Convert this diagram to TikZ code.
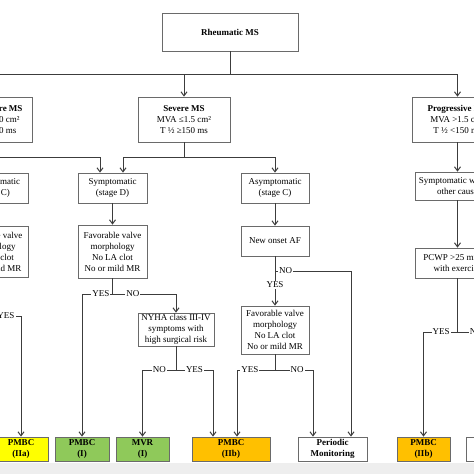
\documentclass[tikz,border=0pt]{standalone}
\usepackage{fontspec}
\setmainfont{Liberation Serif}
\usetikzlibrary{arrows.meta}
\definecolor{lineg}{HTML}{3C3C3C}
\definecolor{boxg}{HTML}{6A6A6A}
\definecolor{clsIIa}{HTML}{FFFF00}
\definecolor{clsI}{HTML}{8FC95A}
\definecolor{clsIIb}{HTML}{FFC000}
\definecolor{band}{HTML}{EEEEEE}

\begin{document}
\begin{tikzpicture}[x=1pt,y=-1pt]
          \tikzstyle{box}=[draw=boxg, line width=0.8pt, fill=white, align=center, inner sep=0pt, font=\fontsize{9}{11}\selectfont]
          \tikzstyle{endbox}=[box, minimum height=24, font=\fontsize{9}{11}\selectfont\bfseries]
          \tikzstyle{wire}=[draw=lineg, line width=1pt]
          \tikzstyle{arr}=[wire, -{Straight Barb[length=4pt,width=6pt]}]
          \tikzstyle{lbl}=[fill=white, inner sep=1pt, font=\fontsize{9}{10}\selectfont]
          \useasboundingbox (0,0) rectangle (474,474);
          \fill[band] (0,463) rectangle (474,474);
          \clip (0,0) rectangle (474,474);
          \node[box, minimum width=136, minimum height=38] (rheum) at (230,32) {\textbf{Rheumatic MS}};
          \node[box, minimum width=79, minimum height=45] (vsevere) at (-7.5,119.5) {\textbf{Very severe MS}\\MVA ≤1.0 cm²\\T ½ ≥220 ms};
          \node[box, minimum width=92, minimum height=45] (severe) at (184,119.5) {\textbf{Severe MS}\\MVA ≤1.5 cm²\\T ½ ≥150 ms};
          \node[box, minimum width=91, minimum height=45] (progr) at (457.5,119.5) {\textbf{Progressive MS}\\MVA >1.5 cm²\\T ½ <150 ms};
          \node[box, minimum width=69, minimum height=30] (asymL) at (-6.5,188) {Asymptomatic\\(stage C)};
          \node[box, minimum width=69, minimum height=30] (sympD) at (112.5,188) {Symptomatic\\(stage D)};
          \node[box, minimum width=68, minimum height=30] (asymC) at (275,188) {Asymptomatic\\(stage C)};
          \node[box, minimum width=85, minimum height=28] (sympR) at (457.5,186) {Symptomatic with no\\other cause};
          \node[box, minimum width=69, minimum height=51] (favL) at (-6.5,251.5) {Favorable valve\\morphology\\No LA clot\\No or mild MR};
          \node[box, minimum width=69, minimum height=53] (favD) at (112.5,251.5) {Favorable valve\\morphology\\No LA clot\\No or mild MR};
          \node[box, minimum width=68, minimum height=30] (onsetAF) at (275,241) {New onset AF};
          \node[box, minimum width=85, minimum height=30] (pcwp) at (457.5,263) {PCWP >25 mmHg\\with exercise};
          \node[box, minimum width=76, minimum height=33] (nyha) at (176,329.5) {NYHA class III-IV\\symptoms with\\high surgical risk};
          \node[box, minimum width=68, minimum height=48] (favC) at (275,330) {Favorable valve\\morphology\\No LA clot\\No or mild MR};
          \node[endbox, fill=clsIIa, minimum width=54] (pmbcIIa) at (21,449) {PMBC\\(IIa)};
          \node[endbox, fill=clsI, minimum width=54] (pmbcI) at (82,449) {PMBC\\(I)};
          \node[endbox, fill=clsI, minimum width=53] (mvr) at (142.5,449) {MVR\\(I)};
          \node[endbox, fill=clsIIb, minimum width=78] (pmbcIIbA) at (231,449) {PMBC\\(IIb)};
          \node[endbox, minimum width=69] (monitor) at (332.5,449) {Periodic\\Monitoring};
          \node[endbox, fill=clsIIb, minimum width=53] (pmbcIIbB) at (423.5,449) {PMBC\\(IIb)};
          \node[endbox, minimum width=69] (monitorR) at (500.5,449) {Periodic\\Monitoring};
          \coordinate (j0) at (230,74);
          \coordinate (j1) at (184,157);
          \coordinate (j2) at (-7.5,157);
          \coordinate (jD) at (112.5,294);
          \coordinate (jN) at (176,370);
          \coordinate (jA) at (275,271);
          \coordinate (jC) at (275,370);
          \coordinate (jP) at (457.5,332);
          \coordinate (jL) at (-9,316);
          \draw[wire] (rheum) -- (j0);
          \draw[arr] (j0) -| (vsevere);
          \draw[arr] (j0) -| (severe);
          \draw[arr] (j0) -| (progr);
          \draw[wire] (vsevere) -- (j2);
          \draw[arr] (j2) -| (asymL);
          \draw[arr] (j2) -| ([xshift=-12.5]sympD.north);
          \draw[wire] (severe) -- (j1);
          \draw[arr] (j1) -| ([xshift=10.5]sympD.north);
          \draw[arr] (j1) -| (asymC);
          \draw[arr] (progr) -- (sympR);
          \draw[arr] (asymL) -- (favL);
          \draw[arr] (sympD) -- (favD);
          \draw[arr] (asymC) -- (onsetAF);
          \draw[arr] (sympR) -- (pcwp);
          \draw[wire] (favL) -- (jL);
          \draw[arr] (jL) -| node[lbl, pos=.25]{YES} (pmbcIIa);
          \draw[wire] (favD) -- (jD);
          \draw[arr] (jD) -| node[lbl, pos=.19]{YES} (pmbcI);
          \draw[arr] (jD) -| node[lbl, pos=.16]{NO} (nyha);
          \draw[wire] (nyha) -- (jN);
          \draw[arr] (jN) -| node[lbl, pos=.25]{NO} (mvr);
          \draw[arr] (jN) -| node[lbl, pos=.25]{YES} ([xshift=-18]pmbcIIbA.north);
          \draw[wire] (onsetAF) -- (jA);
          \draw[arr] (jA) -- node[lbl, pos=.4]{YES} (favC);
          \draw[arr] (jA) -| node[lbl, pos=.07]{NO} ([xshift=18.5]monitor.north);
          \draw[wire] (favC) -- (jC);
          \draw[arr] (jC) -| node[lbl, pos=.33]{YES} ([xshift=6]pmbcIIbA.north);
          \draw[arr] (jC) -| node[lbl, pos=.29]{NO} ([xshift=-19.5]monitor.north);
          \draw[wire] (pcwp) -- (jP);
          \draw[arr] (jP) -| node[lbl, pos=.24]{YES} (pmbcIIbB);
          \draw[arr] (jP) -| node[lbl, pos=.22]{NO} (monitorR);
      \end{tikzpicture}
\end{document}
